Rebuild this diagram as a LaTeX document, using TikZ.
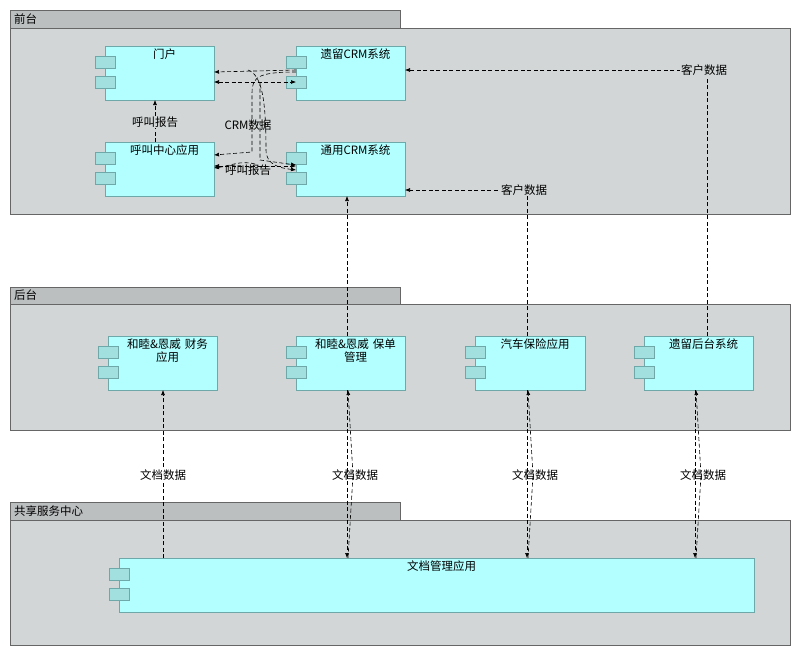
\documentclass[tikz,border=0pt]{standalone}
\usepackage{fontspec}
\setmainfont{Noto Sans CJK SC}
\usetikzlibrary{arrows.meta}
\definecolor{grp}{HTML}{D2D6D6}
\definecolor{tab}{HTML}{BCBFC0}
\definecolor{comp}{HTML}{B3FFFF}
\definecolor{compb}{HTML}{6FA8A8}
\definecolor{port}{HTML}{A2E0E0}
\begin{document}
\begin{tikzpicture}[x=1pt,y=-1pt,font=\fontsize{11.5}{13}\selectfont,
  grpbox/.style={draw=gray!80!black,fill=grp,line width=0.6pt},
  tabbox/.style={draw=gray!80!black,fill=tab,line width=0.6pt},
  cbox/.style={draw=compb,fill=comp,line width=0.6pt},
  pbox/.style={draw=compb,fill=port,line width=0.6pt},
  flow/.style={dashed,dash pattern=on 4pt off 2.5pt,line width=0.6pt,-{Latex[length=5pt,width=4pt]}},
  flow2/.style={flow,{Latex[length=5pt,width=4pt]}-{Latex[length=5pt,width=4pt]}},
  lbl/.style={fill=none,inner sep=1pt}]
\useasboundingbox (0,0) rectangle (801,657);
\fill[white] (0,0) rectangle (801,657);
% groups
\newcommand{\grp}[4]{%
 \draw[tabbox] (10,#1) rectangle (400,#2);
 \draw[grpbox] (10,#2) rectangle (790,#3);
 \node[anchor=west,inner sep=2pt] at (12,{(#1+#2)/2}) {#4};}
\grp{10}{28}{214}{前台}
\grp{287}{304}{430}{后台}
\grp{502}{520}{645}{共享服务中心}
% components
\newcommand{\comp}[6]{%
 \draw[cbox] (#2,#3) rectangle (#4,#5);
 \draw[pbox] ({#2-10},{#3+10}) rectangle ({#2+10},{#3+22});
 \draw[pbox] ({#2-10},{#3+30}) rectangle ({#2+10},{#3+42});
 \coordinate (#1) at ({(#2+#4)/2},{(#3+#5)/2});
 \node[anchor=north,align=center,inner sep=0pt,text width={#4-#2-16}] at ({(#2+#4)/2+5},{#3+3}) {#6};}
\comp{portal}{105}{46}{214}{100}{门户}
\comp{lcrm}{296}{46}{405}{100}{遗留CRM系统}
\comp{call}{105}{142}{214}{196}{呼叫中心应用}
\comp{gcrm}{296}{142}{405}{196}{通用CRM系统}
\comp{fin}{108}{336}{217}{390}{和睦\&恩威 财务\\应用}
\comp{pol}{296}{336}{405}{390}{和睦\&恩威 保单\\管理}
\comp{car}{475}{336}{585}{390}{汽车保险应用}
\comp{lback}{644}{336}{753}{390}{遗留后台系统}
\comp{doc}{119}{558}{754}{612}{文档管理应用}
% front connectors
\draw[flow] (155,142) -- (155,100);
\node[lbl,fill=grp] at (155,122) {呼叫报告};
\draw[flow] (296,70) -- (214,72);
\draw[flow2] (214,82) -- (296,82);
\draw[flow] (296,72) .. controls (250,72) and (252,80) .. (252,100) -- (252,152) -- (214,155);
\draw[flow] (260,82) -- (260,160) -- (296,165);
\draw[flow] (248,70) .. controls (262,75) and (266,100) .. (266,150) .. controls (266,165) and (280,168) .. (296,170);
\draw[flow2] (214,166) -- (296,166);
\draw[flow] (255,164) .. controls (240,160) and (230,166) .. (214,168);
\node[lbl] at (248,125) {CRM数据};
\node[lbl] at (248,170) {呼叫报告};
% customer data
\draw[flow] (707,336) -- (707,70) -- (405,70);
\node[lbl,fill=grp] at (704,70) {客户数据};
\draw[flow] (527,336) -- (527,190) -- (405,190);
\node[lbl,fill=grp] at (524,190) {客户数据};
\draw[flow] (347,336) -- (347,196);
% document data
\draw[flow] (163,558) -- (163,390);
\node[lbl,fill=white] at (163,475) {文档数据};
\foreach \x/\lx in {347/355,527/535,695/703}{
  \draw[flow] (\x,390) -- (\x,558);
  \draw[flow] (\x+1,558) -- (\x+6,475) -- (\x+1,390);
  \node[lbl] at (\lx,475) {文档数据};
}
\end{tikzpicture}
\end{document}
